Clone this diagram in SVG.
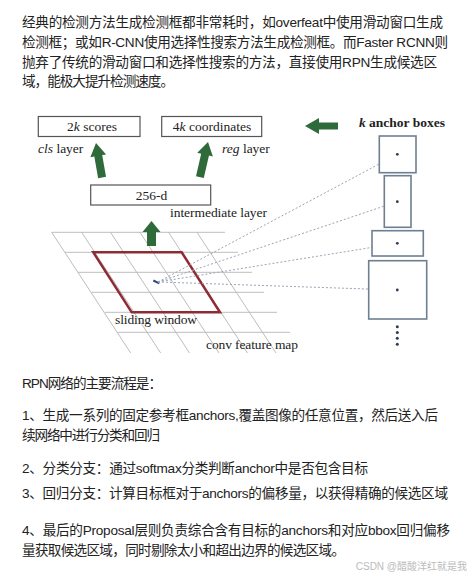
<svg xmlns="http://www.w3.org/2000/svg" width="474" height="577" viewBox="0 0 474 577">
<style>
.zh{font-family:"Liberation Sans","Noto Sans CJK SC",sans-serif;font-size:13.6px;fill:#222}
.tm{font-family:"Liberation Serif",serif;font-size:13.5px;fill:#222}
.box{fill:#fff;stroke:#555;stroke-width:1.2}
.grid{stroke:#bdbdbd;stroke-width:1;fill:none}
.anc{fill:#fff;stroke:#6f7f92;stroke-width:1.6}
.dot{fill:#2c3e55}
.dl{stroke:#9aa5b5;stroke-width:1;stroke-dasharray:2 2;fill:none}
.arr{fill:#2f6a3a}
</style>
<rect width="474" height="577" fill="#fff"/>
<g id="intro">
<text class="zh" x="22" y="27" textLength="421">经典的检测方法生成检测框都非常耗时，如overfeat中使用滑动窗口生成</text>
<text class="zh" x="22" y="46.5" textLength="426">检测框；或如R-CNN使用选择性搜索方法生成检测框。而Faster RCNN则</text>
<text class="zh" x="22" y="66.5" textLength="415">抛弃了传统的滑动窗口和选择性搜索的方法，直接使用RPN生成候选区</text>
<text class="zh" x="22" y="86" textLength="152">域，能极大提升检测速度。</text>
</g>
<g id="feature-map">
<g class="grid">
<line x1="51.7" y1="232.3" x2="225" y2="232.3"/>
<line x1="65" y1="252.3" x2="238" y2="252.3"/>
<line x1="78" y1="272.3" x2="252" y2="272.3"/>
<line x1="91.7" y1="292.3" x2="264" y2="292.3"/>
<line x1="105" y1="312.3" x2="277" y2="312.3"/>
<line x1="118" y1="332.3" x2="290" y2="332.3"/>
<line x1="51.7" y1="232.3" x2="130.7" y2="353"/>
<line x1="81.7" y1="232.3" x2="160.7" y2="353"/>
<line x1="110.5" y1="232.3" x2="189.5" y2="353"/>
<line x1="140" y1="232.3" x2="219" y2="353"/>
<line x1="168.5" y1="232.3" x2="247.5" y2="353"/>
<line x1="197" y1="232.3" x2="276" y2="353"/>
</g>
<text class="tm" x="206" y="349" textLength="92">conv feature map</text>
</g>
<g id="sliding-window">
<polygon points="93.3,252.3 181.7,252.3 220,312.3 131.7,312.3" fill="none" stroke="#8e2c34" stroke-width="2.5"/>
<line x1="153.3" y1="280.5" x2="159.3" y2="283.3" stroke="#2d4a7a" stroke-width="2"/>
<text class="tm" x="115" y="324" textLength="82">sliding window</text>
</g>
<g id="connectors">
<line class="dl" x1="158" y1="282" x2="397.3" y2="154.3"/>
<line class="dl" x1="158" y1="282" x2="397.3" y2="201.7"/>
<line class="dl" x1="158" y1="282" x2="397.3" y2="243.3"/>
<line class="dl" x1="158" y1="282" x2="397.3" y2="290"/>
<path class="arr" transform="translate(151.5,221)" d="M0,0 L9,11 L4.5,11 L4.5,25 L-4.5,25 L-4.5,11 L-9,11 Z"/>
<path class="arr" transform="translate(96,143) rotate(-10)" d="M0,0 L8,13 L4,13 L4,35 L-4,35 L-4,13 L-8,13 Z"/>
<path class="arr" transform="translate(208,142) rotate(13)" d="M0,0 L8,13 L4,13 L4,36 L-4,36 L-4,13 L-8,13 Z"/>
<path class="arr" transform="translate(305,126) rotate(-90)" d="M0,0 L8,14 L3.5,14 L3.5,33 L-3.5,33 L-3.5,14 L-8,14 Z"/>
</g>
<g id="cls-scores">
<rect class="box" x="38.3" y="116.5" width="101.7" height="20"/>
<text class="tm" x="92" y="131" text-anchor="middle" font-size="14">2<tspan font-style="italic">k</tspan> scores</text>
<text class="tm" x="38" y="153"><tspan font-style="italic">cls</tspan> layer</text>
</g>
<g id="reg-coords">
<rect class="box" x="161.7" y="116.5" width="100" height="20"/>
<text class="tm" x="212" y="131" text-anchor="middle" font-size="14">4<tspan font-style="italic">k</tspan> coordinates</text>
<text class="tm" x="222" y="153"><tspan font-style="italic">reg</tspan> layer</text>
</g>
<g id="intermediate">
<rect class="box" x="90.7" y="185" width="120" height="20"/>
<text class="tm" x="151.5" y="199.5" text-anchor="middle" font-size="14">256-d</text>
<text class="tm" x="170" y="217" textLength="97">intermediate layer</text>
</g>
<g id="anchor-boxes">
<text class="tm" x="402" y="127" text-anchor="middle" font-weight="bold"><tspan font-style="italic">k</tspan> anchor boxes</text>
<rect class="anc" x="379.3" y="136" width="36.7" height="36.7"/>
<rect class="anc" x="384.3" y="175.7" width="26.7" height="51.6"/>
<rect class="anc" x="372" y="230.7" width="51.3" height="25.3"/>
<rect class="anc" x="368.7" y="260.7" width="58" height="58.3"/>
<circle class="dot" cx="397.3" cy="154.3" r="1.4"/>
<circle class="dot" cx="397.3" cy="201.7" r="1.4"/>
<circle class="dot" cx="397.3" cy="243.3" r="1.4"/>
<circle class="dot" cx="397.3" cy="290" r="1.4"/>
<circle class="dot" cx="397.3" cy="326.7" r="1.5"/>
<circle class="dot" cx="397.3" cy="332.5" r="1.5"/>
<circle class="dot" cx="397.3" cy="338.3" r="1.5"/>
<circle class="dot" cx="397.3" cy="344.3" r="1.5"/>
</g>
<g id="steps">
<text class="zh" x="22" y="388" textLength="140">RPN网络的主要流程是：</text>
<text class="zh" x="22" y="419.5" textLength="416">1、生成一系列的固定参考框anchors,覆盖图像的任意位置，然后送入后</text>
<text class="zh" x="22" y="440" textLength="138">续网络中进行分类和回归</text>
<text class="zh" x="22" y="473" textLength="346">2、分类分支：通过softmax分类判断anchor中是否包含目标</text>
<text class="zh" x="22" y="498" textLength="426">3、回归分支：计算目标框对于anchors的偏移量，以获得精确的候选区域</text>
<text class="zh" x="22" y="535" textLength="428">4、最后的Proposal层则负责综合含有目标的anchors和对应bbox回归偏移</text>
<text class="zh" x="22" y="555" textLength="323">量获取候选区域，同时剔除太小和超出边界的候选区域。</text>
</g>
<text x="467" y="570" text-anchor="end" font-family="'Liberation Sans','Noto Sans CJK SC',sans-serif" font-size="10" fill="#bbb">CSDN @醋酸洋红就是我</text>
</svg>
